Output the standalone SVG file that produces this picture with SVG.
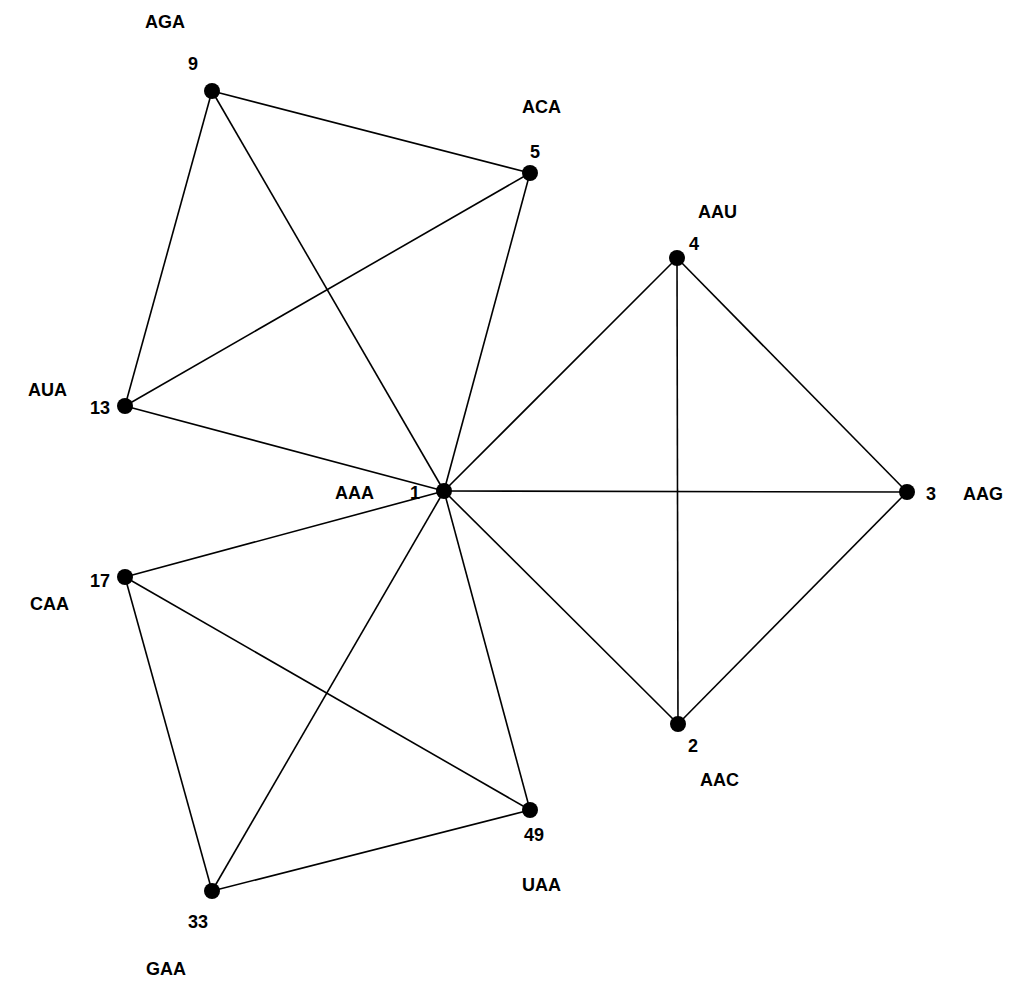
<svg xmlns="http://www.w3.org/2000/svg" width="1024" height="991" viewBox="0 0 1024 991">
<style>
line{stroke:#000;stroke-width:1.6}
circle{fill:#000}
text{font-family:"Liberation Sans",Arial,sans-serif;font-weight:bold;font-size:18px;fill:#000}
</style>
<rect width="1024" height="991" fill="#fff"/>
<g id="connectors">
<line x1="212" y1="91" x2="530" y2="173"/>
<line x1="212" y1="91" x2="125" y2="406"/>
<line x1="212" y1="91" x2="444" y2="491"/>
<line x1="530" y1="173" x2="125" y2="406"/>
<line x1="530" y1="173" x2="444" y2="491"/>
<line x1="125" y1="406" x2="444" y2="491"/>
<line x1="444" y1="491" x2="677" y2="258"/>
<line x1="444" y1="491" x2="907" y2="492"/>
<line x1="444" y1="491" x2="678" y2="724"/>
<line x1="677" y1="258" x2="907" y2="492"/>
<line x1="677" y1="258" x2="678" y2="724"/>
<line x1="907" y1="492" x2="678" y2="724"/>
<line x1="444" y1="491" x2="125" y2="577"/>
<line x1="444" y1="491" x2="212" y2="891"/>
<line x1="444" y1="491" x2="530" y2="810"/>
<line x1="125" y1="577" x2="212" y2="891"/>
<line x1="125" y1="577" x2="530" y2="810"/>
<line x1="212" y1="891" x2="530" y2="810"/>
</g>
<g id="n1"><circle cx="444" cy="491" r="8"/><text x="410" y="499">1</text><text x="335" y="499">AAA</text></g>
<g id="n9"><circle cx="212" cy="91" r="8"/><text x="188" y="70">9</text><text x="145" y="28">AGA</text></g>
<g id="n5"><circle cx="530" cy="173" r="8"/><text x="530" y="158">5</text><text x="522" y="113">ACA</text></g>
<g id="n4"><circle cx="677" cy="258" r="8"/><text x="689" y="250">4</text><text x="698" y="218">AAU</text></g>
<g id="n3"><circle cx="907" cy="492" r="8"/><text x="926" y="500">3</text><text x="963" y="500">AAG</text></g>
<g id="n2"><circle cx="678" cy="724" r="8"/><text x="688" y="752">2</text><text x="700" y="786">AAC</text></g>
<g id="n49"><circle cx="530" cy="810" r="8"/><text x="524" y="841">49</text><text x="522" y="891">UAA</text></g>
<g id="n33"><circle cx="212" cy="891" r="8"/><text x="188" y="928">33</text><text x="146" y="975">GAA</text></g>
<g id="n17"><circle cx="125" cy="577" r="8"/><text x="90" y="587">17</text><text x="30" y="610">CAA</text></g>
<g id="n13"><circle cx="125" cy="406" r="8"/><text x="90" y="414">13</text><text x="28" y="396">AUA</text></g>
</svg>
